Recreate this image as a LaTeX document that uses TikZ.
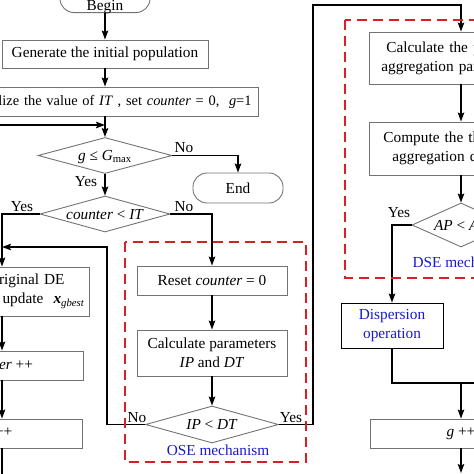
\documentclass[tikz,border=0pt]{standalone}
\usepackage{fontspec}
\setmainfont{Liberation Serif}
\usetikzlibrary{shapes.geometric,arrows.meta}
\definecolor{mechred}{RGB}{222,30,36}
\definecolor{mechblue}{RGB}{25,25,205}
\tikzset{
  box/.style={draw=black!55, line width=0.9pt, inner sep=0pt, minimum height=29pt},
  cond/.style={diamond, aspect=4, draw=black!55, line width=0.9pt, inner sep=0pt, text height=10pt, text depth=0pt},
  term/.style={draw=black!55, line width=0.9pt, rounded corners=14pt, minimum width=90pt, minimum height=30pt},
  flow/.style={line width=1.3pt, -{Stealth[length=9pt,width=6.5pt,inset=1.5pt]}},
  wire/.style={line width=1.3pt},
  mech/.style={draw=mechred, line width=1.6pt, dash pattern=on 10pt off 6pt},
  note/.style={text=mechblue},
}
\begin{document}
\begin{tikzpicture}[x=1pt,y=-1pt,font=\fontsize{15.3}{19}\selectfont]
\useasboundingbox (0,0) rectangle (474,474);
\clip (0,0) rectangle (474,474);
\coordinate (lcol) at (2,0);
\coordinate (rcol) at (461,0);
\coordinate (back) at (-10,125);
\coordinate (ret) at (107,247);
\coordinate (up) at (313,5);
\coordinate (rout) at (480,383);
\coordinate (bot) at (461,473);
\coordinate (lbot) at (2,480);

\node[term, anchor=south, minimum height=0pt, text height=27pt, text depth=2pt, inner ysep=0pt] (begin) at (105,13) {Begin};
\node[box, minimum width=206pt, minimum height=28pt] (gen) at (105,54) {Generate the initial population};
\node[box, anchor=east, text width=290pt, inner xsep=7pt, align=right, font=\fontsize{14.4}{19}\selectfont] (init) at (259,101.5) {lize the value of \textit{IT} , set \textit{counter} = 0,\ \ \textit{g}=1};
\node[cond, minimum width=134pt, minimum height=36pt] (gmax) at (105,155.5) {\textit{g} ≤ \textit{G}\textsubscript{max}};
\node[term] (end) at (238,188) {End};
\node[cond, minimum width=130pt, minimum height=36pt] (cnt) at (105,214) {\textit{counter} < \textit{IT}};

\node[box, anchor=east, minimum height=49pt, text width=110pt, inner xsep=5pt, align=right] (de) at (90,291.5) {riginal DE\rule{20pt}{0pt}\\d update\ \ \textbf{\textit{x}}\textsubscript{\textit{gbest}}};
\node[box, minimum width=168pt] (cinc) at (-1,365.5) {\textit{counter} ++};
\node[box, minimum width=168pt] (ginc) at (-2,433.5) {\textit{g} ++};

\node[box, minimum width=150pt] (reset) at (212,280.5) {Reset \textit{counter} = 0};
\node[box, minimum width=150pt, minimum height=46pt, align=center] (param) at (212,353) {Calculate parameters\\\textit{IP} and \textit{DT}};
\node[cond, minimum width=133pt, minimum height=37pt] (ipdt) at (212,424.5) {\textit{IP} < \textit{DT}};
\node[note] (ose) at (218,450) {OSE mechanism};

\node[box, anchor=west, minimum height=52pt, text width=200pt, inner xsep=12pt, align=left] (agg) at (369,58) {\hspace*{5pt}Calculate the p\\aggregation par};
\node[box, anchor=west, minimum height=53pt, text width=200pt, inner xsep=14pt, align=left] (comp) at (369,148.5) {Compute the th\\\hspace*{9pt}aggregation d};
\node[cond, minimum width=98pt, minimum height=44pt] (ap) at (461,225) {\textit{AP} < \textit{A}\phantom{\textit{T}}};
\node[note, anchor=west] (dse) at (409,262) {DSE mechanism};
\node[box, draw=black, minimum width=102pt, minimum height=45pt, align=center, text=mechblue] (disp) at (392,325.5) {Dispersion\\operation};
\node[box, minimum width=182pt] (ginc2) at (461,433.5) {\textit{g} ++};

\draw[flow] (begin) -- (gen);
\draw[flow] (gen) -- (gen.south |- init.north);
\draw[flow] (gen.south |- init.south) -- (gmax.north);
\draw[flow] (back) -- (back -| gmax.north);
\draw[flow] (gmax.east) -| (end.north);
\node (no1) at (184,148) {No};
\draw[flow] (gmax.south) -- (cnt.north);
\node (yes1) at (86,182) {Yes};
\draw[flow] (cnt.west) -| (lcol |- de.north);
\node (yes2) at (22,207) {Yes};
\draw[flow] (cnt.east) -| (reset.north);
\node (no2) at (184,207) {No};
\draw[flow] (lcol |- de.south) -- (lcol |- cinc.north);
\draw[flow] (lcol |- cinc.south) -- (lcol |- ginc.north);
\draw[wire] (lcol |- ginc.south) -- (lbot);

\draw[flow] (reset) -- (param);
\draw[flow] (param) -- (ipdt);
\draw[flow] (ipdt.west) -| (ret) -- (ret -| lcol);
\node (no3) at (137,418) {No};
\draw[flow] (ipdt.east) -| (up) -- (up -| rcol) -- (rcol |- agg.north);
\node (yes3) at (291,418) {Yes};

\draw[flow] (rcol |- agg.south) -- (rcol |- comp.north);
\draw[flow] (rcol |- comp.south) -- (ap.north);
\draw[flow] (ap.west) -| (disp.north);
\node (yes4) at (399,213) {Yes};
\draw[wire] (disp.south) |- (rout);
\draw[flow] (rcol |- rout) -- (ginc2);
\draw[flow] (ginc2) -- (bot);

\draw[mech] (125,242) rectangle (306,462);
\draw[mech] (345,20) rectangle (490,278);
\end{tikzpicture}
\end{document}
